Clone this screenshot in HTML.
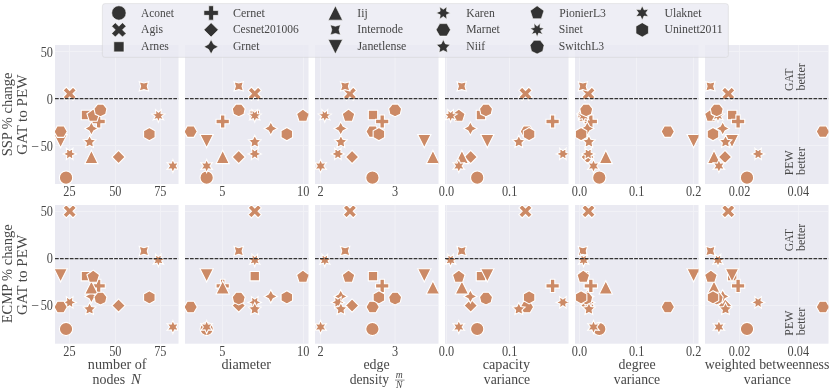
<!DOCTYPE html><html><head><meta charset="utf-8"><style>html,body{margin:0;padding:0;background:#fff;}svg{display:block;}</style></head><body><svg width="830" height="390" viewBox="0 0 830 390" font-family="Liberation Serif, DejaVu Serif, serif">
<rect width="830" height="390" fill="#fff"/>
<defs>
<clipPath id="c00"><rect x="55.00" y="45.00" width="123.50" height="139.00"/></clipPath>
<clipPath id="c01"><rect x="185.00" y="45.00" width="123.50" height="139.00"/></clipPath>
<clipPath id="c02"><rect x="315.00" y="45.00" width="123.50" height="139.00"/></clipPath>
<clipPath id="c03"><rect x="445.00" y="45.00" width="123.50" height="139.00"/></clipPath>
<clipPath id="c04"><rect x="575.00" y="45.00" width="123.50" height="139.00"/></clipPath>
<clipPath id="c05"><rect x="705.00" y="45.00" width="123.50" height="139.00"/></clipPath>
<clipPath id="c10"><rect x="55.00" y="205.00" width="123.50" height="138.70"/></clipPath>
<clipPath id="c11"><rect x="185.00" y="205.00" width="123.50" height="138.70"/></clipPath>
<clipPath id="c12"><rect x="315.00" y="205.00" width="123.50" height="138.70"/></clipPath>
<clipPath id="c13"><rect x="445.00" y="205.00" width="123.50" height="138.70"/></clipPath>
<clipPath id="c14"><rect x="575.00" y="205.00" width="123.50" height="138.70"/></clipPath>
<clipPath id="c15"><rect x="705.00" y="205.00" width="123.50" height="138.70"/></clipPath>
</defs>
<rect x="55.00" y="45.00" width="123.50" height="139.00" fill="#EAEAF2"/>
<g clip-path="url(#c00)">
<line x1="55.00" x2="178.50" y1="51.50" y2="51.50" stroke="#F1F1F6" stroke-width="1"/>
<line x1="55.00" x2="178.50" y1="98.50" y2="98.50" stroke="#F1F1F6" stroke-width="1"/>
<line x1="55.00" x2="178.50" y1="145.50" y2="145.50" stroke="#F1F1F6" stroke-width="1"/>
<line x1="69.50" x2="69.50" y1="45.00" y2="184.00" stroke="#F1F1F6" stroke-width="1"/>
<line x1="115.50" x2="115.50" y1="45.00" y2="184.00" stroke="#F1F1F6" stroke-width="1"/>
<line x1="160.50" x2="160.50" y1="45.00" y2="184.00" stroke="#F1F1F6" stroke-width="1"/>
<circle cx="66.04" cy="177.68" r="6.65" fill="#CC8A66" stroke="#fff" stroke-width="1.10"/>
<polygon points="66.34,100.35 69.66,97.03 72.99,100.35 76.31,97.03 72.99,93.70 76.31,90.38 72.99,87.05 69.66,90.38 66.34,87.05 63.01,90.38 66.34,93.70 63.01,97.03" fill="#CC8A66" stroke="#fff" stroke-width="1.10" stroke-linejoin="miter"/>
<polygon points="81.26,110.30 81.26,119.70 90.67,119.70 90.67,110.30" fill="#CC8A66" stroke="#fff" stroke-width="1.10" stroke-linejoin="miter"/>
<polygon points="96.42,128.15 100.86,128.15 100.86,123.72 105.29,123.72 105.29,119.28 100.86,119.28 100.86,114.85 96.42,114.85 96.42,119.28 91.99,119.28 91.99,123.72 96.42,123.72" fill="#CC8A66" stroke="#fff" stroke-width="1.10" stroke-linejoin="miter"/>
<polygon points="118.56,150.35 111.91,157.00 118.56,163.65 125.21,157.00" fill="#CC8A66" stroke="#fff" stroke-width="1.10" stroke-linejoin="miter"/>
<polygon points="91.40,121.85 89.05,126.15 84.75,128.50 89.05,130.85 91.40,135.15 93.75,130.85 98.05,128.50 93.75,126.15" fill="#CC8A66" stroke="#fff" stroke-width="1.10" stroke-linejoin="miter"/>
<polygon points="91.40,150.35 84.75,163.65 98.05,163.65" fill="#CC8A66" stroke="#fff" stroke-width="1.10" stroke-linejoin="miter"/>
<polygon points="139.21,81.60 140.59,86.30 139.21,91.00 143.91,89.62 148.62,91.00 147.24,86.30 148.62,81.60 143.91,82.97" fill="#CC8A66" stroke="#fff" stroke-width="1.10" stroke-linejoin="miter"/>
<polygon points="60.61,147.75 67.26,134.45 53.96,134.45" fill="#CC8A66" stroke="#fff" stroke-width="1.10" stroke-linejoin="miter"/>
<polygon points="66.34,148.14 66.79,152.24 63.01,153.90 66.79,155.56 66.34,159.66 69.66,157.22 72.99,159.66 72.54,155.56 76.31,153.90 72.54,152.24 72.99,148.14 69.66,150.58" fill="#CC8A66" stroke="#fff" stroke-width="1.10" stroke-linejoin="miter"/>
<polygon points="57.28,125.84 53.96,131.60 57.28,137.36 63.94,137.36 67.26,131.60 63.94,125.84" fill="#CC8A66" stroke="#fff" stroke-width="1.10" stroke-linejoin="miter"/>
<polygon points="89.59,135.35 87.63,139.31 83.26,139.95 86.42,143.03 85.68,147.38 89.59,145.32 93.49,147.38 92.75,143.03 95.91,139.95 91.54,139.31" fill="#CC8A66" stroke="#fff" stroke-width="1.10" stroke-linejoin="miter"/>
<polygon points="93.21,109.15 86.88,113.75 89.30,121.18 97.12,121.18 99.53,113.75" fill="#CC8A66" stroke="#fff" stroke-width="1.10" stroke-linejoin="miter"/>
<polygon points="155.52,109.61 155.80,113.53 151.92,114.12 155.16,116.34 153.20,119.75 156.96,118.60 158.40,122.25 159.84,118.60 163.60,119.75 161.64,116.34 164.89,114.12 161.00,113.53 161.29,109.61 158.40,112.27" fill="#CC8A66" stroke="#fff" stroke-width="1.10" stroke-linejoin="miter"/>
<polygon points="97.57,104.11 93.97,108.62 95.25,114.25 100.45,116.75 105.65,114.25 106.93,108.62 103.34,104.11" fill="#CC8A66" stroke="#fff" stroke-width="1.10" stroke-linejoin="miter"/>
<polygon points="172.89,159.35 171.23,163.12 167.13,162.68 169.56,166.00 167.13,169.32 171.23,168.88 172.89,172.65 174.55,168.88 178.65,169.32 176.21,166.00 178.65,162.68 174.55,163.12" fill="#CC8A66" stroke="#fff" stroke-width="1.10" stroke-linejoin="miter"/>
<polygon points="149.35,127.45 143.59,130.78 143.59,137.42 149.35,140.75 155.11,137.42 155.11,130.78" fill="#CC8A66" stroke="#fff" stroke-width="1.10" stroke-linejoin="miter"/>
<line x1="55.00" x2="178.50" y1="98.60" y2="98.60" stroke="#333" stroke-width="1.2" stroke-dasharray="3.75 1.18"/>
</g>
<rect x="185.00" y="45.00" width="123.50" height="139.00" fill="#EAEAF2"/>
<g clip-path="url(#c01)">
<line x1="185.00" x2="308.50" y1="51.50" y2="51.50" stroke="#F1F1F6" stroke-width="1"/>
<line x1="185.00" x2="308.50" y1="98.50" y2="98.50" stroke="#F1F1F6" stroke-width="1"/>
<line x1="185.00" x2="308.50" y1="145.50" y2="145.50" stroke="#F1F1F6" stroke-width="1"/>
<line x1="222.50" x2="222.50" y1="45.00" y2="184.00" stroke="#F1F1F6" stroke-width="1"/>
<line x1="303.50" x2="303.50" y1="45.00" y2="184.00" stroke="#F1F1F6" stroke-width="1"/>
<circle cx="206.65" cy="177.68" r="6.65" fill="#CC8A66" stroke="#fff" stroke-width="1.10"/>
<polygon points="251.44,100.35 254.77,97.03 258.09,100.35 261.42,97.03 258.09,93.70 261.42,90.38 258.09,87.05 254.77,90.38 251.44,87.05 248.12,90.38 251.44,93.70 248.12,97.03" fill="#CC8A66" stroke="#fff" stroke-width="1.10" stroke-linejoin="miter"/>
<polygon points="250.07,110.30 250.07,119.70 259.47,119.70 259.47,110.30" fill="#CC8A66" stroke="#fff" stroke-width="1.10" stroke-linejoin="miter"/>
<polygon points="220.47,128.15 224.91,128.15 224.91,123.72 229.34,123.72 229.34,119.28 224.91,119.28 224.91,114.85 220.47,114.85 220.47,119.28 216.04,119.28 216.04,123.72 220.47,123.72" fill="#CC8A66" stroke="#fff" stroke-width="1.10" stroke-linejoin="miter"/>
<polygon points="238.73,150.35 232.08,157.00 238.73,163.65 245.38,157.00" fill="#CC8A66" stroke="#fff" stroke-width="1.10" stroke-linejoin="miter"/>
<polygon points="270.81,121.85 268.46,126.15 264.16,128.50 268.46,130.85 270.81,135.15 273.16,130.85 277.46,128.50 273.16,126.15" fill="#CC8A66" stroke="#fff" stroke-width="1.10" stroke-linejoin="miter"/>
<polygon points="222.69,150.35 216.04,163.65 229.34,163.65" fill="#CC8A66" stroke="#fff" stroke-width="1.10" stroke-linejoin="miter"/>
<polygon points="234.03,81.60 235.41,86.30 234.03,91.00 238.73,89.62 243.43,91.00 242.06,86.30 243.43,81.60 238.73,82.97" fill="#CC8A66" stroke="#fff" stroke-width="1.10" stroke-linejoin="miter"/>
<polygon points="206.65,147.75 213.30,134.45 200.00,134.45" fill="#CC8A66" stroke="#fff" stroke-width="1.10" stroke-linejoin="miter"/>
<polygon points="251.44,148.14 251.89,152.24 248.12,153.90 251.89,155.56 251.44,159.66 254.77,157.22 258.09,159.66 257.65,155.56 261.42,153.90 257.65,152.24 258.09,148.14 254.77,150.58" fill="#CC8A66" stroke="#fff" stroke-width="1.10" stroke-linejoin="miter"/>
<polygon points="187.29,125.84 183.96,131.60 187.29,137.36 193.94,137.36 197.26,131.60 193.94,125.84" fill="#CC8A66" stroke="#fff" stroke-width="1.10" stroke-linejoin="miter"/>
<polygon points="254.77,135.35 252.82,139.31 248.45,139.95 251.61,143.03 250.86,147.38 254.77,145.32 258.68,147.38 257.93,143.03 261.09,139.95 256.72,139.31" fill="#CC8A66" stroke="#fff" stroke-width="1.10" stroke-linejoin="miter"/>
<polygon points="302.89,109.15 296.56,113.75 298.98,121.18 306.80,121.18 309.21,113.75" fill="#CC8A66" stroke="#fff" stroke-width="1.10" stroke-linejoin="miter"/>
<polygon points="251.88,109.61 252.17,113.53 248.29,114.12 251.53,116.34 249.57,119.75 253.33,118.60 254.77,122.25 256.21,118.60 259.97,119.75 258.01,116.34 261.25,114.12 257.37,113.53 257.65,109.61 254.77,112.27" fill="#CC8A66" stroke="#fff" stroke-width="1.10" stroke-linejoin="miter"/>
<polygon points="235.85,104.11 232.25,108.62 233.53,114.25 238.73,116.75 243.93,114.25 245.21,108.62 241.62,104.11" fill="#CC8A66" stroke="#fff" stroke-width="1.10" stroke-linejoin="miter"/>
<polygon points="206.65,159.35 204.99,163.12 200.89,162.68 203.33,166.00 200.89,169.32 204.99,168.88 206.65,172.65 208.32,168.88 212.41,169.32 209.98,166.00 212.41,162.68 208.32,163.12" fill="#CC8A66" stroke="#fff" stroke-width="1.10" stroke-linejoin="miter"/>
<polygon points="286.85,127.45 281.09,130.78 281.09,137.42 286.85,140.75 292.61,137.42 292.61,130.78" fill="#CC8A66" stroke="#fff" stroke-width="1.10" stroke-linejoin="miter"/>
<line x1="185.00" x2="308.50" y1="98.60" y2="98.60" stroke="#333" stroke-width="1.2" stroke-dasharray="3.75 1.18"/>
</g>
<rect x="315.00" y="45.00" width="123.50" height="139.00" fill="#EAEAF2"/>
<g clip-path="url(#c02)">
<line x1="315.00" x2="438.50" y1="51.50" y2="51.50" stroke="#F1F1F6" stroke-width="1"/>
<line x1="315.00" x2="438.50" y1="98.50" y2="98.50" stroke="#F1F1F6" stroke-width="1"/>
<line x1="315.00" x2="438.50" y1="145.50" y2="145.50" stroke="#F1F1F6" stroke-width="1"/>
<line x1="320.50" x2="320.50" y1="45.00" y2="184.00" stroke="#F1F1F6" stroke-width="1"/>
<line x1="395.00" x2="395.00" y1="45.00" y2="184.00" stroke="#F1F1F6" stroke-width="1"/>
<circle cx="372.40" cy="177.68" r="6.65" fill="#CC8A66" stroke="#fff" stroke-width="1.10"/>
<polygon points="346.57,100.35 349.90,97.03 353.22,100.35 356.55,97.03 353.22,93.70 356.55,90.38 353.22,87.05 349.90,90.38 346.57,87.05 343.25,90.38 346.57,93.70 343.25,97.03" fill="#CC8A66" stroke="#fff" stroke-width="1.10" stroke-linejoin="miter"/>
<polygon points="368.30,110.30 368.30,119.70 377.70,119.70 377.70,110.30" fill="#CC8A66" stroke="#fff" stroke-width="1.10" stroke-linejoin="miter"/>
<polygon points="379.98,128.15 384.42,128.15 384.42,123.72 388.85,123.72 388.85,119.28 384.42,119.28 384.42,114.85 379.98,114.85 379.98,119.28 375.55,119.28 375.55,123.72 379.98,123.72" fill="#CC8A66" stroke="#fff" stroke-width="1.10" stroke-linejoin="miter"/>
<polygon points="352.10,150.35 345.45,157.00 352.10,163.65 358.75,157.00" fill="#CC8A66" stroke="#fff" stroke-width="1.10" stroke-linejoin="miter"/>
<polygon points="340.70,121.85 338.35,126.15 334.05,128.50 338.35,130.85 340.70,135.15 343.05,130.85 347.35,128.50 343.05,126.15" fill="#CC8A66" stroke="#fff" stroke-width="1.10" stroke-linejoin="miter"/>
<polygon points="432.90,150.35 426.25,163.65 439.55,163.65" fill="#CC8A66" stroke="#fff" stroke-width="1.10" stroke-linejoin="miter"/>
<polygon points="340.40,81.60 341.78,86.30 340.40,91.00 345.10,89.62 349.80,91.00 348.43,86.30 349.80,81.60 345.10,82.97" fill="#CC8A66" stroke="#fff" stroke-width="1.10" stroke-linejoin="miter"/>
<polygon points="424.30,147.75 430.95,134.45 417.65,134.45" fill="#CC8A66" stroke="#fff" stroke-width="1.10" stroke-linejoin="miter"/>
<polygon points="334.57,148.14 335.02,152.24 331.25,153.90 335.02,155.56 334.57,159.66 337.90,157.22 341.22,159.66 340.78,155.56 344.55,153.90 340.78,152.24 341.22,148.14 337.90,150.58" fill="#CC8A66" stroke="#fff" stroke-width="1.10" stroke-linejoin="miter"/>
<polygon points="369.32,125.84 366.00,131.60 369.32,137.36 375.97,137.36 379.30,131.60 375.97,125.84" fill="#CC8A66" stroke="#fff" stroke-width="1.10" stroke-linejoin="miter"/>
<polygon points="340.90,135.35 338.95,139.31 334.58,139.95 337.74,143.03 336.99,147.38 340.90,145.32 344.81,147.38 344.06,143.03 347.22,139.95 342.85,139.31" fill="#CC8A66" stroke="#fff" stroke-width="1.10" stroke-linejoin="miter"/>
<polygon points="348.50,109.15 342.18,113.75 344.59,121.18 352.41,121.18 354.82,113.75" fill="#CC8A66" stroke="#fff" stroke-width="1.10" stroke-linejoin="miter"/>
<polygon points="321.91,109.61 322.20,113.53 318.32,114.12 321.56,116.34 319.60,119.75 323.36,118.60 324.80,122.25 326.24,118.60 330.00,119.75 328.04,116.34 331.28,114.12 327.40,113.53 327.69,109.61 324.80,112.27" fill="#CC8A66" stroke="#fff" stroke-width="1.10" stroke-linejoin="miter"/>
<polygon points="392.21,104.11 388.62,108.62 389.90,114.25 395.10,116.75 400.30,114.25 401.58,108.62 397.99,104.11" fill="#CC8A66" stroke="#fff" stroke-width="1.10" stroke-linejoin="miter"/>
<polygon points="320.60,159.35 318.94,163.12 314.84,162.68 317.28,166.00 314.84,169.32 318.94,168.88 320.60,172.65 322.26,168.88 326.36,169.32 323.93,166.00 326.36,162.68 322.26,163.12" fill="#CC8A66" stroke="#fff" stroke-width="1.10" stroke-linejoin="miter"/>
<polygon points="378.90,127.45 373.14,130.78 373.14,137.42 378.90,140.75 384.66,137.42 384.66,130.78" fill="#CC8A66" stroke="#fff" stroke-width="1.10" stroke-linejoin="miter"/>
<line x1="315.00" x2="438.50" y1="98.60" y2="98.60" stroke="#333" stroke-width="1.2" stroke-dasharray="3.75 1.18"/>
</g>
<rect x="445.00" y="45.00" width="123.50" height="139.00" fill="#EAEAF2"/>
<g clip-path="url(#c03)">
<line x1="445.00" x2="568.50" y1="51.50" y2="51.50" stroke="#F1F1F6" stroke-width="1"/>
<line x1="445.00" x2="568.50" y1="98.50" y2="98.50" stroke="#F1F1F6" stroke-width="1"/>
<line x1="445.00" x2="568.50" y1="145.50" y2="145.50" stroke="#F1F1F6" stroke-width="1"/>
<line x1="446.50" x2="446.50" y1="45.00" y2="184.00" stroke="#F1F1F6" stroke-width="1"/>
<line x1="509.50" x2="509.50" y1="45.00" y2="184.00" stroke="#F1F1F6" stroke-width="1"/>
<circle cx="477.20" cy="177.68" r="6.65" fill="#CC8A66" stroke="#fff" stroke-width="1.10"/>
<polygon points="522.17,100.35 525.50,97.03 528.83,100.35 532.15,97.03 528.83,93.70 532.15,90.38 528.83,87.05 525.50,90.38 522.17,87.05 518.85,90.38 522.17,93.70 518.85,97.03" fill="#CC8A66" stroke="#fff" stroke-width="1.10" stroke-linejoin="miter"/>
<polygon points="476.25,110.30 476.25,119.70 485.65,119.70 485.65,110.30" fill="#CC8A66" stroke="#fff" stroke-width="1.10" stroke-linejoin="miter"/>
<polygon points="550.38,128.15 554.82,128.15 554.82,123.72 559.25,123.72 559.25,119.28 554.82,119.28 554.82,114.85 550.38,114.85 550.38,119.28 545.95,119.28 545.95,123.72 550.38,123.72" fill="#CC8A66" stroke="#fff" stroke-width="1.10" stroke-linejoin="miter"/>
<polygon points="470.70,150.35 464.05,157.00 470.70,163.65 477.35,157.00" fill="#CC8A66" stroke="#fff" stroke-width="1.10" stroke-linejoin="miter"/>
<polygon points="470.40,121.85 468.05,126.15 463.75,128.50 468.05,130.85 470.40,135.15 472.75,130.85 477.05,128.50 472.75,126.15" fill="#CC8A66" stroke="#fff" stroke-width="1.10" stroke-linejoin="miter"/>
<polygon points="461.90,150.35 455.25,163.65 468.55,163.65" fill="#CC8A66" stroke="#fff" stroke-width="1.10" stroke-linejoin="miter"/>
<polygon points="457.00,81.60 458.38,86.30 457.00,91.00 461.70,89.62 466.40,91.00 465.02,86.30 466.40,81.60 461.70,82.97" fill="#CC8A66" stroke="#fff" stroke-width="1.10" stroke-linejoin="miter"/>
<polygon points="487.30,147.75 493.95,134.45 480.65,134.45" fill="#CC8A66" stroke="#fff" stroke-width="1.10" stroke-linejoin="miter"/>
<polygon points="559.57,148.14 560.02,152.24 556.25,153.90 560.02,155.56 559.57,159.66 562.90,157.22 566.23,159.66 565.78,155.56 569.55,153.90 565.78,152.24 566.23,148.14 562.90,150.58" fill="#CC8A66" stroke="#fff" stroke-width="1.10" stroke-linejoin="miter"/>
<polygon points="523.57,125.84 520.25,131.60 523.57,137.36 530.23,137.36 533.55,131.60 530.23,125.84" fill="#CC8A66" stroke="#fff" stroke-width="1.10" stroke-linejoin="miter"/>
<polygon points="518.80,135.35 516.85,139.31 512.48,139.95 515.64,143.03 514.89,147.38 518.80,145.32 522.71,147.38 521.96,143.03 525.12,139.95 520.75,139.31" fill="#CC8A66" stroke="#fff" stroke-width="1.10" stroke-linejoin="miter"/>
<polygon points="458.80,109.15 452.48,113.75 454.89,121.18 462.71,121.18 465.12,113.75" fill="#CC8A66" stroke="#fff" stroke-width="1.10" stroke-linejoin="miter"/>
<polygon points="447.71,109.61 448.00,113.53 444.12,114.12 447.36,116.34 445.40,119.75 449.16,118.60 450.60,122.25 452.04,118.60 455.80,119.75 453.84,116.34 457.08,114.12 453.20,113.53 453.49,109.61 450.60,112.27" fill="#CC8A66" stroke="#fff" stroke-width="1.10" stroke-linejoin="miter"/>
<polygon points="483.11,104.11 479.52,108.62 480.80,114.25 486.00,116.75 491.20,114.25 492.48,108.62 488.89,104.11" fill="#CC8A66" stroke="#fff" stroke-width="1.10" stroke-linejoin="miter"/>
<polygon points="458.80,159.35 457.14,163.12 453.04,162.68 455.48,166.00 453.04,169.32 457.14,168.88 458.80,172.65 460.46,168.88 464.56,169.32 462.12,166.00 464.56,162.68 460.46,163.12" fill="#CC8A66" stroke="#fff" stroke-width="1.10" stroke-linejoin="miter"/>
<polygon points="529.10,127.45 523.34,130.78 523.34,137.42 529.10,140.75 534.86,137.42 534.86,130.78" fill="#CC8A66" stroke="#fff" stroke-width="1.10" stroke-linejoin="miter"/>
<line x1="445.00" x2="568.50" y1="98.60" y2="98.60" stroke="#333" stroke-width="1.2" stroke-dasharray="3.75 1.18"/>
</g>
<rect x="575.00" y="45.00" width="123.50" height="139.00" fill="#EAEAF2"/>
<g clip-path="url(#c04)">
<line x1="575.00" x2="698.50" y1="51.50" y2="51.50" stroke="#F1F1F6" stroke-width="1"/>
<line x1="575.00" x2="698.50" y1="98.50" y2="98.50" stroke="#F1F1F6" stroke-width="1"/>
<line x1="575.00" x2="698.50" y1="145.50" y2="145.50" stroke="#F1F1F6" stroke-width="1"/>
<line x1="579.50" x2="579.50" y1="45.00" y2="184.00" stroke="#F1F1F6" stroke-width="1"/>
<line x1="636.50" x2="636.50" y1="45.00" y2="184.00" stroke="#F1F1F6" stroke-width="1"/>
<line x1="693.50" x2="693.50" y1="45.00" y2="184.00" stroke="#F1F1F6" stroke-width="1"/>
<circle cx="599.30" cy="177.68" r="6.65" fill="#CC8A66" stroke="#fff" stroke-width="1.10"/>
<polygon points="585.17,100.35 588.50,97.03 591.83,100.35 595.15,97.03 591.83,93.70 595.15,90.38 591.83,87.05 588.50,90.38 585.17,87.05 581.85,90.38 585.17,93.70 581.85,97.03" fill="#CC8A66" stroke="#fff" stroke-width="1.10" stroke-linejoin="miter"/>
<polygon points="579.30,110.30 579.30,119.70 588.70,119.70 588.70,110.30" fill="#CC8A66" stroke="#fff" stroke-width="1.10" stroke-linejoin="miter"/>
<polygon points="588.58,128.15 593.02,128.15 593.02,123.72 597.45,123.72 597.45,119.28 593.02,119.28 593.02,114.85 588.58,114.85 588.58,119.28 584.15,119.28 584.15,123.72 588.58,123.72" fill="#CC8A66" stroke="#fff" stroke-width="1.10" stroke-linejoin="miter"/>
<polygon points="587.50,150.35 580.85,157.00 587.50,163.65 594.15,157.00" fill="#CC8A66" stroke="#fff" stroke-width="1.10" stroke-linejoin="miter"/>
<polygon points="587.30,121.85 584.95,126.15 580.65,128.50 584.95,130.85 587.30,135.15 589.65,130.85 593.95,128.50 589.65,126.15" fill="#CC8A66" stroke="#fff" stroke-width="1.10" stroke-linejoin="miter"/>
<polygon points="605.80,150.35 599.15,163.65 612.45,163.65" fill="#CC8A66" stroke="#fff" stroke-width="1.10" stroke-linejoin="miter"/>
<polygon points="578.20,81.60 579.57,86.30 578.20,91.00 582.90,89.62 587.60,91.00 586.23,86.30 587.60,81.60 582.90,82.97" fill="#CC8A66" stroke="#fff" stroke-width="1.10" stroke-linejoin="miter"/>
<polygon points="693.60,147.75 700.25,134.45 686.95,134.45" fill="#CC8A66" stroke="#fff" stroke-width="1.10" stroke-linejoin="miter"/>
<polygon points="584.88,148.14 585.32,152.24 581.55,153.90 585.32,155.56 584.88,159.66 588.20,157.22 591.53,159.66 591.08,155.56 594.85,153.90 591.08,152.24 591.53,148.14 588.20,150.58" fill="#CC8A66" stroke="#fff" stroke-width="1.10" stroke-linejoin="miter"/>
<polygon points="664.47,125.84 661.15,131.60 664.47,137.36 671.12,137.36 674.45,131.60 671.12,125.84" fill="#CC8A66" stroke="#fff" stroke-width="1.10" stroke-linejoin="miter"/>
<polygon points="588.90,135.35 586.95,139.31 582.58,139.95 585.74,143.03 584.99,147.38 588.90,145.32 592.81,147.38 592.06,143.03 595.22,139.95 590.85,139.31" fill="#CC8A66" stroke="#fff" stroke-width="1.10" stroke-linejoin="miter"/>
<polygon points="583.30,109.15 576.98,113.75 579.39,121.18 587.21,121.18 589.62,113.75" fill="#CC8A66" stroke="#fff" stroke-width="1.10" stroke-linejoin="miter"/>
<polygon points="580.71,109.61 581.00,113.53 577.12,114.12 580.36,116.34 578.40,119.75 582.16,118.60 583.60,122.25 585.04,118.60 588.80,119.75 586.84,116.34 590.08,114.12 586.20,113.53 586.49,109.61 583.60,112.27" fill="#CC8A66" stroke="#fff" stroke-width="1.10" stroke-linejoin="miter"/>
<polygon points="583.31,104.11 579.72,108.62 581.00,114.25 586.20,116.75 591.40,114.25 592.68,108.62 589.09,104.11" fill="#CC8A66" stroke="#fff" stroke-width="1.10" stroke-linejoin="miter"/>
<polygon points="593.50,159.35 591.84,163.12 587.74,162.68 590.17,166.00 587.74,169.32 591.84,168.88 593.50,172.65 595.16,168.88 599.26,169.32 596.83,166.00 599.26,162.68 595.16,163.12" fill="#CC8A66" stroke="#fff" stroke-width="1.10" stroke-linejoin="miter"/>
<polygon points="581.10,127.45 575.34,130.78 575.34,137.42 581.10,140.75 586.86,137.42 586.86,130.78" fill="#CC8A66" stroke="#fff" stroke-width="1.10" stroke-linejoin="miter"/>
<line x1="575.00" x2="698.50" y1="98.60" y2="98.60" stroke="#333" stroke-width="1.2" stroke-dasharray="3.75 1.18"/>
</g>
<rect x="705.00" y="45.00" width="123.50" height="139.00" fill="#EAEAF2"/>
<g clip-path="url(#c05)">
<line x1="705.00" x2="828.50" y1="51.50" y2="51.50" stroke="#F1F1F6" stroke-width="1"/>
<line x1="705.00" x2="828.50" y1="98.50" y2="98.50" stroke="#F1F1F6" stroke-width="1"/>
<line x1="705.00" x2="828.50" y1="145.50" y2="145.50" stroke="#F1F1F6" stroke-width="1"/>
<line x1="739.50" x2="739.50" y1="45.00" y2="184.00" stroke="#F1F1F6" stroke-width="1"/>
<line x1="798.50" x2="798.50" y1="45.00" y2="184.00" stroke="#F1F1F6" stroke-width="1"/>
<circle cx="747.00" cy="177.68" r="6.65" fill="#CC8A66" stroke="#fff" stroke-width="1.10"/>
<polygon points="724.97,100.35 728.30,97.03 731.62,100.35 734.95,97.03 731.62,93.70 734.95,90.38 731.62,87.05 728.30,90.38 724.97,87.05 721.65,90.38 724.97,93.70 721.65,97.03" fill="#CC8A66" stroke="#fff" stroke-width="1.10" stroke-linejoin="miter"/>
<polygon points="727.50,110.30 727.50,119.70 736.90,119.70 736.90,110.30" fill="#CC8A66" stroke="#fff" stroke-width="1.10" stroke-linejoin="miter"/>
<polygon points="735.88,128.15 740.32,128.15 740.32,123.72 744.75,123.72 744.75,119.28 740.32,119.28 740.32,114.85 735.88,114.85 735.88,119.28 731.45,119.28 731.45,123.72 735.88,123.72" fill="#CC8A66" stroke="#fff" stroke-width="1.10" stroke-linejoin="miter"/>
<polygon points="725.00,150.35 718.35,157.00 725.00,163.65 731.65,157.00" fill="#CC8A66" stroke="#fff" stroke-width="1.10" stroke-linejoin="miter"/>
<polygon points="722.70,121.85 720.35,126.15 716.05,128.50 720.35,130.85 722.70,135.15 725.05,130.85 729.35,128.50 725.05,126.15" fill="#CC8A66" stroke="#fff" stroke-width="1.10" stroke-linejoin="miter"/>
<polygon points="714.00,150.35 707.35,163.65 720.65,163.65" fill="#CC8A66" stroke="#fff" stroke-width="1.10" stroke-linejoin="miter"/>
<polygon points="705.70,81.60 707.07,86.30 705.70,91.00 710.40,89.62 715.10,91.00 713.73,86.30 715.10,81.60 710.40,82.97" fill="#CC8A66" stroke="#fff" stroke-width="1.10" stroke-linejoin="miter"/>
<polygon points="732.00,147.75 738.65,134.45 725.35,134.45" fill="#CC8A66" stroke="#fff" stroke-width="1.10" stroke-linejoin="miter"/>
<polygon points="754.77,148.14 755.22,152.24 751.45,153.90 755.22,155.56 754.77,159.66 758.10,157.22 761.43,159.66 760.98,155.56 764.75,153.90 760.98,152.24 761.43,148.14 758.10,150.58" fill="#CC8A66" stroke="#fff" stroke-width="1.10" stroke-linejoin="miter"/>
<polygon points="819.57,125.84 816.25,131.60 819.57,137.36 826.23,137.36 829.55,131.60 826.23,125.84" fill="#CC8A66" stroke="#fff" stroke-width="1.10" stroke-linejoin="miter"/>
<polygon points="725.50,135.35 723.55,139.31 719.18,139.95 722.34,143.03 721.59,147.38 725.50,145.32 729.41,147.38 728.66,143.03 731.82,139.95 727.45,139.31" fill="#CC8A66" stroke="#fff" stroke-width="1.10" stroke-linejoin="miter"/>
<polygon points="710.90,109.15 704.58,113.75 706.99,121.18 714.81,121.18 717.22,113.75" fill="#CC8A66" stroke="#fff" stroke-width="1.10" stroke-linejoin="miter"/>
<polygon points="715.11,109.61 715.40,113.53 711.52,114.12 714.76,116.34 712.80,119.75 716.56,118.60 718.00,122.25 719.44,118.60 723.20,119.75 721.24,116.34 724.48,114.12 720.60,113.53 720.89,109.61 718.00,112.27" fill="#CC8A66" stroke="#fff" stroke-width="1.10" stroke-linejoin="miter"/>
<polygon points="713.81,104.11 710.22,108.62 711.50,114.25 716.70,116.75 721.90,114.25 723.18,108.62 719.59,104.11" fill="#CC8A66" stroke="#fff" stroke-width="1.10" stroke-linejoin="miter"/>
<polygon points="718.90,159.35 717.24,163.12 713.14,162.68 715.57,166.00 713.14,169.32 717.24,168.88 718.90,172.65 720.56,168.88 724.66,169.32 722.23,166.00 724.66,162.68 720.56,163.12" fill="#CC8A66" stroke="#fff" stroke-width="1.10" stroke-linejoin="miter"/>
<polygon points="713.00,127.45 707.24,130.78 707.24,137.42 713.00,140.75 718.76,137.42 718.76,130.78" fill="#CC8A66" stroke="#fff" stroke-width="1.10" stroke-linejoin="miter"/>
<line x1="705.00" x2="828.50" y1="98.60" y2="98.60" stroke="#333" stroke-width="1.2" stroke-dasharray="3.75 1.18"/>
</g>
<rect x="55.00" y="205.00" width="123.50" height="138.70" fill="#EAEAF2"/>
<g clip-path="url(#c10)">
<line x1="55.00" x2="178.50" y1="211.50" y2="211.50" stroke="#F1F1F6" stroke-width="1"/>
<line x1="55.00" x2="178.50" y1="258.50" y2="258.50" stroke="#F1F1F6" stroke-width="1"/>
<line x1="55.00" x2="178.50" y1="305.50" y2="305.50" stroke="#F1F1F6" stroke-width="1"/>
<line x1="69.50" x2="69.50" y1="205.00" y2="343.70" stroke="#F1F1F6" stroke-width="1"/>
<line x1="115.50" x2="115.50" y1="205.00" y2="343.70" stroke="#F1F1F6" stroke-width="1"/>
<line x1="160.50" x2="160.50" y1="205.00" y2="343.70" stroke="#F1F1F6" stroke-width="1"/>
<circle cx="66.04" cy="329.00" r="6.65" fill="#CC8A66" stroke="#fff" stroke-width="1.10"/>
<polygon points="66.34,217.95 69.66,214.62 72.99,217.95 76.31,214.62 72.99,211.30 76.31,207.98 72.99,204.65 69.66,207.98 66.34,204.65 63.01,207.98 66.34,211.30 63.01,214.62" fill="#CC8A66" stroke="#fff" stroke-width="1.10" stroke-linejoin="miter"/>
<polygon points="81.26,271.50 81.26,280.90 90.67,280.90 90.67,271.50" fill="#CC8A66" stroke="#fff" stroke-width="1.10" stroke-linejoin="miter"/>
<polygon points="96.42,292.55 100.86,292.55 100.86,288.12 105.29,288.12 105.29,283.68 100.86,283.68 100.86,279.25 96.42,279.25 96.42,283.68 91.99,283.68 91.99,288.12 96.42,288.12" fill="#CC8A66" stroke="#fff" stroke-width="1.10" stroke-linejoin="miter"/>
<polygon points="118.56,298.95 111.91,305.60 118.56,312.25 125.21,305.60" fill="#CC8A66" stroke="#fff" stroke-width="1.10" stroke-linejoin="miter"/>
<polygon points="91.40,289.75 89.05,294.05 84.75,296.40 89.05,298.75 91.40,303.05 93.75,298.75 98.05,296.40 93.75,294.05" fill="#CC8A66" stroke="#fff" stroke-width="1.10" stroke-linejoin="miter"/>
<polygon points="91.40,280.75 84.75,294.05 98.05,294.05" fill="#CC8A66" stroke="#fff" stroke-width="1.10" stroke-linejoin="miter"/>
<polygon points="139.21,246.30 140.59,251.00 139.21,255.70 143.91,254.32 148.62,255.70 147.24,251.00 148.62,246.30 143.91,247.68" fill="#CC8A66" stroke="#fff" stroke-width="1.10" stroke-linejoin="miter"/>
<polygon points="60.61,282.05 67.26,268.75 53.96,268.75" fill="#CC8A66" stroke="#fff" stroke-width="1.10" stroke-linejoin="miter"/>
<polygon points="66.34,296.64 66.79,300.74 63.01,302.40 66.79,304.06 66.34,308.16 69.66,305.72 72.99,308.16 72.54,304.06 76.31,302.40 72.54,300.74 72.99,296.64 69.66,299.07" fill="#CC8A66" stroke="#fff" stroke-width="1.10" stroke-linejoin="miter"/>
<polygon points="57.28,301.24 53.96,307.00 57.28,312.76 63.94,312.76 67.26,307.00 63.94,301.24" fill="#CC8A66" stroke="#fff" stroke-width="1.10" stroke-linejoin="miter"/>
<polygon points="89.59,302.55 87.63,306.51 83.26,307.15 86.42,310.23 85.68,314.58 89.59,312.52 93.49,314.58 92.75,310.23 95.91,307.15 91.54,306.51" fill="#CC8A66" stroke="#fff" stroke-width="1.10" stroke-linejoin="miter"/>
<polygon points="93.21,270.15 86.88,274.75 89.30,282.18 97.12,282.18 99.53,274.75" fill="#CC8A66" stroke="#fff" stroke-width="1.10" stroke-linejoin="miter"/>
<polygon points="155.52,254.11 155.80,258.03 151.92,258.62 155.16,260.84 153.20,264.25 156.96,263.10 158.40,266.75 159.84,263.10 163.60,264.25 161.64,260.84 164.89,258.62 161.00,258.03 161.29,254.11 158.40,256.78" fill="#CC8A66" stroke="#fff" stroke-width="1.10" stroke-linejoin="miter"/>
<polygon points="97.57,292.31 93.97,296.82 95.25,302.45 100.45,304.95 105.65,302.45 106.93,296.82 103.34,292.31" fill="#CC8A66" stroke="#fff" stroke-width="1.10" stroke-linejoin="miter"/>
<polygon points="172.89,320.35 171.23,324.12 167.13,323.68 169.56,327.00 167.13,330.32 171.23,329.88 172.89,333.65 174.55,329.88 178.65,330.32 176.21,327.00 178.65,323.68 174.55,324.12" fill="#CC8A66" stroke="#fff" stroke-width="1.10" stroke-linejoin="miter"/>
<polygon points="149.35,290.65 143.59,293.98 143.59,300.62 149.35,303.95 155.11,300.62 155.11,293.98" fill="#CC8A66" stroke="#fff" stroke-width="1.10" stroke-linejoin="miter"/>
<line x1="55.00" x2="178.50" y1="258.55" y2="258.55" stroke="#333" stroke-width="1.2" stroke-dasharray="3.75 1.18"/>
</g>
<rect x="185.00" y="205.00" width="123.50" height="138.70" fill="#EAEAF2"/>
<g clip-path="url(#c11)">
<line x1="185.00" x2="308.50" y1="211.50" y2="211.50" stroke="#F1F1F6" stroke-width="1"/>
<line x1="185.00" x2="308.50" y1="258.50" y2="258.50" stroke="#F1F1F6" stroke-width="1"/>
<line x1="185.00" x2="308.50" y1="305.50" y2="305.50" stroke="#F1F1F6" stroke-width="1"/>
<line x1="222.50" x2="222.50" y1="205.00" y2="343.70" stroke="#F1F1F6" stroke-width="1"/>
<line x1="303.50" x2="303.50" y1="205.00" y2="343.70" stroke="#F1F1F6" stroke-width="1"/>
<circle cx="206.65" cy="329.00" r="6.65" fill="#CC8A66" stroke="#fff" stroke-width="1.10"/>
<polygon points="251.44,217.95 254.77,214.62 258.09,217.95 261.42,214.62 258.09,211.30 261.42,207.98 258.09,204.65 254.77,207.98 251.44,204.65 248.12,207.98 251.44,211.30 248.12,214.62" fill="#CC8A66" stroke="#fff" stroke-width="1.10" stroke-linejoin="miter"/>
<polygon points="250.07,271.50 250.07,280.90 259.47,280.90 259.47,271.50" fill="#CC8A66" stroke="#fff" stroke-width="1.10" stroke-linejoin="miter"/>
<polygon points="220.47,292.55 224.91,292.55 224.91,288.12 229.34,288.12 229.34,283.68 224.91,283.68 224.91,279.25 220.47,279.25 220.47,283.68 216.04,283.68 216.04,288.12 220.47,288.12" fill="#CC8A66" stroke="#fff" stroke-width="1.10" stroke-linejoin="miter"/>
<polygon points="238.73,298.95 232.08,305.60 238.73,312.25 245.38,305.60" fill="#CC8A66" stroke="#fff" stroke-width="1.10" stroke-linejoin="miter"/>
<polygon points="270.81,289.75 268.46,294.05 264.16,296.40 268.46,298.75 270.81,303.05 273.16,298.75 277.46,296.40 273.16,294.05" fill="#CC8A66" stroke="#fff" stroke-width="1.10" stroke-linejoin="miter"/>
<polygon points="222.69,280.75 216.04,294.05 229.34,294.05" fill="#CC8A66" stroke="#fff" stroke-width="1.10" stroke-linejoin="miter"/>
<polygon points="234.03,246.30 235.41,251.00 234.03,255.70 238.73,254.32 243.43,255.70 242.06,251.00 243.43,246.30 238.73,247.68" fill="#CC8A66" stroke="#fff" stroke-width="1.10" stroke-linejoin="miter"/>
<polygon points="206.65,282.05 213.30,268.75 200.00,268.75" fill="#CC8A66" stroke="#fff" stroke-width="1.10" stroke-linejoin="miter"/>
<polygon points="251.44,296.64 251.89,300.74 248.12,302.40 251.89,304.06 251.44,308.16 254.77,305.72 258.09,308.16 257.65,304.06 261.42,302.40 257.65,300.74 258.09,296.64 254.77,299.07" fill="#CC8A66" stroke="#fff" stroke-width="1.10" stroke-linejoin="miter"/>
<polygon points="187.29,301.24 183.96,307.00 187.29,312.76 193.94,312.76 197.26,307.00 193.94,301.24" fill="#CC8A66" stroke="#fff" stroke-width="1.10" stroke-linejoin="miter"/>
<polygon points="254.77,302.55 252.82,306.51 248.45,307.15 251.61,310.23 250.86,314.58 254.77,312.52 258.68,314.58 257.93,310.23 261.09,307.15 256.72,306.51" fill="#CC8A66" stroke="#fff" stroke-width="1.10" stroke-linejoin="miter"/>
<polygon points="302.89,270.15 296.56,274.75 298.98,282.18 306.80,282.18 309.21,274.75" fill="#CC8A66" stroke="#fff" stroke-width="1.10" stroke-linejoin="miter"/>
<polygon points="251.88,254.11 252.17,258.03 248.29,258.62 251.53,260.84 249.57,264.25 253.33,263.10 254.77,266.75 256.21,263.10 259.97,264.25 258.01,260.84 261.25,258.62 257.37,258.03 257.65,254.11 254.77,256.78" fill="#CC8A66" stroke="#fff" stroke-width="1.10" stroke-linejoin="miter"/>
<polygon points="235.85,292.31 232.25,296.82 233.53,302.45 238.73,304.95 243.93,302.45 245.21,296.82 241.62,292.31" fill="#CC8A66" stroke="#fff" stroke-width="1.10" stroke-linejoin="miter"/>
<polygon points="206.65,320.35 204.99,324.12 200.89,323.68 203.33,327.00 200.89,330.32 204.99,329.88 206.65,333.65 208.32,329.88 212.41,330.32 209.98,327.00 212.41,323.68 208.32,324.12" fill="#CC8A66" stroke="#fff" stroke-width="1.10" stroke-linejoin="miter"/>
<polygon points="286.85,290.65 281.09,293.98 281.09,300.62 286.85,303.95 292.61,300.62 292.61,293.98" fill="#CC8A66" stroke="#fff" stroke-width="1.10" stroke-linejoin="miter"/>
<line x1="185.00" x2="308.50" y1="258.55" y2="258.55" stroke="#333" stroke-width="1.2" stroke-dasharray="3.75 1.18"/>
</g>
<rect x="315.00" y="205.00" width="123.50" height="138.70" fill="#EAEAF2"/>
<g clip-path="url(#c12)">
<line x1="315.00" x2="438.50" y1="211.50" y2="211.50" stroke="#F1F1F6" stroke-width="1"/>
<line x1="315.00" x2="438.50" y1="258.50" y2="258.50" stroke="#F1F1F6" stroke-width="1"/>
<line x1="315.00" x2="438.50" y1="305.50" y2="305.50" stroke="#F1F1F6" stroke-width="1"/>
<line x1="320.50" x2="320.50" y1="205.00" y2="343.70" stroke="#F1F1F6" stroke-width="1"/>
<line x1="395.00" x2="395.00" y1="205.00" y2="343.70" stroke="#F1F1F6" stroke-width="1"/>
<circle cx="372.40" cy="329.00" r="6.65" fill="#CC8A66" stroke="#fff" stroke-width="1.10"/>
<polygon points="346.57,217.95 349.90,214.62 353.22,217.95 356.55,214.62 353.22,211.30 356.55,207.98 353.22,204.65 349.90,207.98 346.57,204.65 343.25,207.98 346.57,211.30 343.25,214.62" fill="#CC8A66" stroke="#fff" stroke-width="1.10" stroke-linejoin="miter"/>
<polygon points="368.30,271.50 368.30,280.90 377.70,280.90 377.70,271.50" fill="#CC8A66" stroke="#fff" stroke-width="1.10" stroke-linejoin="miter"/>
<polygon points="379.98,292.55 384.42,292.55 384.42,288.12 388.85,288.12 388.85,283.68 384.42,283.68 384.42,279.25 379.98,279.25 379.98,283.68 375.55,283.68 375.55,288.12 379.98,288.12" fill="#CC8A66" stroke="#fff" stroke-width="1.10" stroke-linejoin="miter"/>
<polygon points="352.10,298.95 345.45,305.60 352.10,312.25 358.75,305.60" fill="#CC8A66" stroke="#fff" stroke-width="1.10" stroke-linejoin="miter"/>
<polygon points="340.70,289.75 338.35,294.05 334.05,296.40 338.35,298.75 340.70,303.05 343.05,298.75 347.35,296.40 343.05,294.05" fill="#CC8A66" stroke="#fff" stroke-width="1.10" stroke-linejoin="miter"/>
<polygon points="432.90,280.75 426.25,294.05 439.55,294.05" fill="#CC8A66" stroke="#fff" stroke-width="1.10" stroke-linejoin="miter"/>
<polygon points="340.40,246.30 341.78,251.00 340.40,255.70 345.10,254.32 349.80,255.70 348.43,251.00 349.80,246.30 345.10,247.68" fill="#CC8A66" stroke="#fff" stroke-width="1.10" stroke-linejoin="miter"/>
<polygon points="424.30,282.05 430.95,268.75 417.65,268.75" fill="#CC8A66" stroke="#fff" stroke-width="1.10" stroke-linejoin="miter"/>
<polygon points="334.57,296.64 335.02,300.74 331.25,302.40 335.02,304.06 334.57,308.16 337.90,305.72 341.22,308.16 340.78,304.06 344.55,302.40 340.78,300.74 341.22,296.64 337.90,299.07" fill="#CC8A66" stroke="#fff" stroke-width="1.10" stroke-linejoin="miter"/>
<polygon points="369.32,301.24 366.00,307.00 369.32,312.76 375.97,312.76 379.30,307.00 375.97,301.24" fill="#CC8A66" stroke="#fff" stroke-width="1.10" stroke-linejoin="miter"/>
<polygon points="340.90,302.55 338.95,306.51 334.58,307.15 337.74,310.23 336.99,314.58 340.90,312.52 344.81,314.58 344.06,310.23 347.22,307.15 342.85,306.51" fill="#CC8A66" stroke="#fff" stroke-width="1.10" stroke-linejoin="miter"/>
<polygon points="348.50,270.15 342.18,274.75 344.59,282.18 352.41,282.18 354.82,274.75" fill="#CC8A66" stroke="#fff" stroke-width="1.10" stroke-linejoin="miter"/>
<polygon points="321.91,254.11 322.20,258.03 318.32,258.62 321.56,260.84 319.60,264.25 323.36,263.10 324.80,266.75 326.24,263.10 330.00,264.25 328.04,260.84 331.28,258.62 327.40,258.03 327.69,254.11 324.80,256.78" fill="#CC8A66" stroke="#fff" stroke-width="1.10" stroke-linejoin="miter"/>
<polygon points="392.21,292.31 388.62,296.82 389.90,302.45 395.10,304.95 400.30,302.45 401.58,296.82 397.99,292.31" fill="#CC8A66" stroke="#fff" stroke-width="1.10" stroke-linejoin="miter"/>
<polygon points="320.60,320.35 318.94,324.12 314.84,323.68 317.28,327.00 314.84,330.32 318.94,329.88 320.60,333.65 322.26,329.88 326.36,330.32 323.93,327.00 326.36,323.68 322.26,324.12" fill="#CC8A66" stroke="#fff" stroke-width="1.10" stroke-linejoin="miter"/>
<polygon points="378.90,290.65 373.14,293.98 373.14,300.62 378.90,303.95 384.66,300.62 384.66,293.98" fill="#CC8A66" stroke="#fff" stroke-width="1.10" stroke-linejoin="miter"/>
<line x1="315.00" x2="438.50" y1="258.55" y2="258.55" stroke="#333" stroke-width="1.2" stroke-dasharray="3.75 1.18"/>
</g>
<rect x="445.00" y="205.00" width="123.50" height="138.70" fill="#EAEAF2"/>
<g clip-path="url(#c13)">
<line x1="445.00" x2="568.50" y1="211.50" y2="211.50" stroke="#F1F1F6" stroke-width="1"/>
<line x1="445.00" x2="568.50" y1="258.50" y2="258.50" stroke="#F1F1F6" stroke-width="1"/>
<line x1="445.00" x2="568.50" y1="305.50" y2="305.50" stroke="#F1F1F6" stroke-width="1"/>
<line x1="446.50" x2="446.50" y1="205.00" y2="343.70" stroke="#F1F1F6" stroke-width="1"/>
<line x1="509.50" x2="509.50" y1="205.00" y2="343.70" stroke="#F1F1F6" stroke-width="1"/>
<circle cx="477.20" cy="329.00" r="6.65" fill="#CC8A66" stroke="#fff" stroke-width="1.10"/>
<polygon points="522.17,217.95 525.50,214.62 528.83,217.95 532.15,214.62 528.83,211.30 532.15,207.98 528.83,204.65 525.50,207.98 522.17,204.65 518.85,207.98 522.17,211.30 518.85,214.62" fill="#CC8A66" stroke="#fff" stroke-width="1.10" stroke-linejoin="miter"/>
<polygon points="476.25,271.50 476.25,280.90 485.65,280.90 485.65,271.50" fill="#CC8A66" stroke="#fff" stroke-width="1.10" stroke-linejoin="miter"/>
<polygon points="550.38,292.55 554.82,292.55 554.82,288.12 559.25,288.12 559.25,283.68 554.82,283.68 554.82,279.25 550.38,279.25 550.38,283.68 545.95,283.68 545.95,288.12 550.38,288.12" fill="#CC8A66" stroke="#fff" stroke-width="1.10" stroke-linejoin="miter"/>
<polygon points="470.70,298.95 464.05,305.60 470.70,312.25 477.35,305.60" fill="#CC8A66" stroke="#fff" stroke-width="1.10" stroke-linejoin="miter"/>
<polygon points="470.40,289.75 468.05,294.05 463.75,296.40 468.05,298.75 470.40,303.05 472.75,298.75 477.05,296.40 472.75,294.05" fill="#CC8A66" stroke="#fff" stroke-width="1.10" stroke-linejoin="miter"/>
<polygon points="461.90,280.75 455.25,294.05 468.55,294.05" fill="#CC8A66" stroke="#fff" stroke-width="1.10" stroke-linejoin="miter"/>
<polygon points="457.00,246.30 458.38,251.00 457.00,255.70 461.70,254.32 466.40,255.70 465.02,251.00 466.40,246.30 461.70,247.68" fill="#CC8A66" stroke="#fff" stroke-width="1.10" stroke-linejoin="miter"/>
<polygon points="487.30,282.05 493.95,268.75 480.65,268.75" fill="#CC8A66" stroke="#fff" stroke-width="1.10" stroke-linejoin="miter"/>
<polygon points="559.57,296.64 560.02,300.74 556.25,302.40 560.02,304.06 559.57,308.16 562.90,305.72 566.23,308.16 565.78,304.06 569.55,302.40 565.78,300.74 566.23,296.64 562.90,299.07" fill="#CC8A66" stroke="#fff" stroke-width="1.10" stroke-linejoin="miter"/>
<polygon points="523.57,301.24 520.25,307.00 523.57,312.76 530.23,312.76 533.55,307.00 530.23,301.24" fill="#CC8A66" stroke="#fff" stroke-width="1.10" stroke-linejoin="miter"/>
<polygon points="518.80,302.55 516.85,306.51 512.48,307.15 515.64,310.23 514.89,314.58 518.80,312.52 522.71,314.58 521.96,310.23 525.12,307.15 520.75,306.51" fill="#CC8A66" stroke="#fff" stroke-width="1.10" stroke-linejoin="miter"/>
<polygon points="458.80,270.15 452.48,274.75 454.89,282.18 462.71,282.18 465.12,274.75" fill="#CC8A66" stroke="#fff" stroke-width="1.10" stroke-linejoin="miter"/>
<polygon points="447.71,254.11 448.00,258.03 444.12,258.62 447.36,260.84 445.40,264.25 449.16,263.10 450.60,266.75 452.04,263.10 455.80,264.25 453.84,260.84 457.08,258.62 453.20,258.03 453.49,254.11 450.60,256.78" fill="#CC8A66" stroke="#fff" stroke-width="1.10" stroke-linejoin="miter"/>
<polygon points="483.11,292.31 479.52,296.82 480.80,302.45 486.00,304.95 491.20,302.45 492.48,296.82 488.89,292.31" fill="#CC8A66" stroke="#fff" stroke-width="1.10" stroke-linejoin="miter"/>
<polygon points="458.80,320.35 457.14,324.12 453.04,323.68 455.48,327.00 453.04,330.32 457.14,329.88 458.80,333.65 460.46,329.88 464.56,330.32 462.12,327.00 464.56,323.68 460.46,324.12" fill="#CC8A66" stroke="#fff" stroke-width="1.10" stroke-linejoin="miter"/>
<polygon points="529.10,290.65 523.34,293.98 523.34,300.62 529.10,303.95 534.86,300.62 534.86,293.98" fill="#CC8A66" stroke="#fff" stroke-width="1.10" stroke-linejoin="miter"/>
<line x1="445.00" x2="568.50" y1="258.55" y2="258.55" stroke="#333" stroke-width="1.2" stroke-dasharray="3.75 1.18"/>
</g>
<rect x="575.00" y="205.00" width="123.50" height="138.70" fill="#EAEAF2"/>
<g clip-path="url(#c14)">
<line x1="575.00" x2="698.50" y1="211.50" y2="211.50" stroke="#F1F1F6" stroke-width="1"/>
<line x1="575.00" x2="698.50" y1="258.50" y2="258.50" stroke="#F1F1F6" stroke-width="1"/>
<line x1="575.00" x2="698.50" y1="305.50" y2="305.50" stroke="#F1F1F6" stroke-width="1"/>
<line x1="579.50" x2="579.50" y1="205.00" y2="343.70" stroke="#F1F1F6" stroke-width="1"/>
<line x1="636.50" x2="636.50" y1="205.00" y2="343.70" stroke="#F1F1F6" stroke-width="1"/>
<line x1="693.50" x2="693.50" y1="205.00" y2="343.70" stroke="#F1F1F6" stroke-width="1"/>
<circle cx="599.30" cy="329.00" r="6.65" fill="#CC8A66" stroke="#fff" stroke-width="1.10"/>
<polygon points="585.17,217.95 588.50,214.62 591.83,217.95 595.15,214.62 591.83,211.30 595.15,207.98 591.83,204.65 588.50,207.98 585.17,204.65 581.85,207.98 585.17,211.30 581.85,214.62" fill="#CC8A66" stroke="#fff" stroke-width="1.10" stroke-linejoin="miter"/>
<polygon points="579.30,271.50 579.30,280.90 588.70,280.90 588.70,271.50" fill="#CC8A66" stroke="#fff" stroke-width="1.10" stroke-linejoin="miter"/>
<polygon points="588.58,292.55 593.02,292.55 593.02,288.12 597.45,288.12 597.45,283.68 593.02,283.68 593.02,279.25 588.58,279.25 588.58,283.68 584.15,283.68 584.15,288.12 588.58,288.12" fill="#CC8A66" stroke="#fff" stroke-width="1.10" stroke-linejoin="miter"/>
<polygon points="587.50,298.95 580.85,305.60 587.50,312.25 594.15,305.60" fill="#CC8A66" stroke="#fff" stroke-width="1.10" stroke-linejoin="miter"/>
<polygon points="587.30,289.75 584.95,294.05 580.65,296.40 584.95,298.75 587.30,303.05 589.65,298.75 593.95,296.40 589.65,294.05" fill="#CC8A66" stroke="#fff" stroke-width="1.10" stroke-linejoin="miter"/>
<polygon points="605.80,280.75 599.15,294.05 612.45,294.05" fill="#CC8A66" stroke="#fff" stroke-width="1.10" stroke-linejoin="miter"/>
<polygon points="578.20,246.30 579.57,251.00 578.20,255.70 582.90,254.32 587.60,255.70 586.23,251.00 587.60,246.30 582.90,247.68" fill="#CC8A66" stroke="#fff" stroke-width="1.10" stroke-linejoin="miter"/>
<polygon points="693.60,282.05 700.25,268.75 686.95,268.75" fill="#CC8A66" stroke="#fff" stroke-width="1.10" stroke-linejoin="miter"/>
<polygon points="584.88,296.64 585.32,300.74 581.55,302.40 585.32,304.06 584.88,308.16 588.20,305.72 591.53,308.16 591.08,304.06 594.85,302.40 591.08,300.74 591.53,296.64 588.20,299.07" fill="#CC8A66" stroke="#fff" stroke-width="1.10" stroke-linejoin="miter"/>
<polygon points="664.47,301.24 661.15,307.00 664.47,312.76 671.12,312.76 674.45,307.00 671.12,301.24" fill="#CC8A66" stroke="#fff" stroke-width="1.10" stroke-linejoin="miter"/>
<polygon points="588.90,302.55 586.95,306.51 582.58,307.15 585.74,310.23 584.99,314.58 588.90,312.52 592.81,314.58 592.06,310.23 595.22,307.15 590.85,306.51" fill="#CC8A66" stroke="#fff" stroke-width="1.10" stroke-linejoin="miter"/>
<polygon points="583.30,270.15 576.98,274.75 579.39,282.18 587.21,282.18 589.62,274.75" fill="#CC8A66" stroke="#fff" stroke-width="1.10" stroke-linejoin="miter"/>
<polygon points="580.71,254.11 581.00,258.03 577.12,258.62 580.36,260.84 578.40,264.25 582.16,263.10 583.60,266.75 585.04,263.10 588.80,264.25 586.84,260.84 590.08,258.62 586.20,258.03 586.49,254.11 583.60,256.78" fill="#CC8A66" stroke="#fff" stroke-width="1.10" stroke-linejoin="miter"/>
<polygon points="583.31,292.31 579.72,296.82 581.00,302.45 586.20,304.95 591.40,302.45 592.68,296.82 589.09,292.31" fill="#CC8A66" stroke="#fff" stroke-width="1.10" stroke-linejoin="miter"/>
<polygon points="593.50,320.35 591.84,324.12 587.74,323.68 590.17,327.00 587.74,330.32 591.84,329.88 593.50,333.65 595.16,329.88 599.26,330.32 596.83,327.00 599.26,323.68 595.16,324.12" fill="#CC8A66" stroke="#fff" stroke-width="1.10" stroke-linejoin="miter"/>
<polygon points="581.10,290.65 575.34,293.98 575.34,300.62 581.10,303.95 586.86,300.62 586.86,293.98" fill="#CC8A66" stroke="#fff" stroke-width="1.10" stroke-linejoin="miter"/>
<line x1="575.00" x2="698.50" y1="258.55" y2="258.55" stroke="#333" stroke-width="1.2" stroke-dasharray="3.75 1.18"/>
</g>
<rect x="705.00" y="205.00" width="123.50" height="138.70" fill="#EAEAF2"/>
<g clip-path="url(#c15)">
<line x1="705.00" x2="828.50" y1="211.50" y2="211.50" stroke="#F1F1F6" stroke-width="1"/>
<line x1="705.00" x2="828.50" y1="258.50" y2="258.50" stroke="#F1F1F6" stroke-width="1"/>
<line x1="705.00" x2="828.50" y1="305.50" y2="305.50" stroke="#F1F1F6" stroke-width="1"/>
<line x1="739.50" x2="739.50" y1="205.00" y2="343.70" stroke="#F1F1F6" stroke-width="1"/>
<line x1="798.50" x2="798.50" y1="205.00" y2="343.70" stroke="#F1F1F6" stroke-width="1"/>
<circle cx="747.00" cy="329.00" r="6.65" fill="#CC8A66" stroke="#fff" stroke-width="1.10"/>
<polygon points="724.97,217.95 728.30,214.62 731.62,217.95 734.95,214.62 731.62,211.30 734.95,207.98 731.62,204.65 728.30,207.98 724.97,204.65 721.65,207.98 724.97,211.30 721.65,214.62" fill="#CC8A66" stroke="#fff" stroke-width="1.10" stroke-linejoin="miter"/>
<polygon points="727.50,271.50 727.50,280.90 736.90,280.90 736.90,271.50" fill="#CC8A66" stroke="#fff" stroke-width="1.10" stroke-linejoin="miter"/>
<polygon points="735.88,292.55 740.32,292.55 740.32,288.12 744.75,288.12 744.75,283.68 740.32,283.68 740.32,279.25 735.88,279.25 735.88,283.68 731.45,283.68 731.45,288.12 735.88,288.12" fill="#CC8A66" stroke="#fff" stroke-width="1.10" stroke-linejoin="miter"/>
<polygon points="725.00,298.95 718.35,305.60 725.00,312.25 731.65,305.60" fill="#CC8A66" stroke="#fff" stroke-width="1.10" stroke-linejoin="miter"/>
<polygon points="722.70,289.75 720.35,294.05 716.05,296.40 720.35,298.75 722.70,303.05 725.05,298.75 729.35,296.40 725.05,294.05" fill="#CC8A66" stroke="#fff" stroke-width="1.10" stroke-linejoin="miter"/>
<polygon points="714.00,280.75 707.35,294.05 720.65,294.05" fill="#CC8A66" stroke="#fff" stroke-width="1.10" stroke-linejoin="miter"/>
<polygon points="705.70,246.30 707.07,251.00 705.70,255.70 710.40,254.32 715.10,255.70 713.73,251.00 715.10,246.30 710.40,247.68" fill="#CC8A66" stroke="#fff" stroke-width="1.10" stroke-linejoin="miter"/>
<polygon points="732.00,282.05 738.65,268.75 725.35,268.75" fill="#CC8A66" stroke="#fff" stroke-width="1.10" stroke-linejoin="miter"/>
<polygon points="754.77,296.64 755.22,300.74 751.45,302.40 755.22,304.06 754.77,308.16 758.10,305.72 761.43,308.16 760.98,304.06 764.75,302.40 760.98,300.74 761.43,296.64 758.10,299.07" fill="#CC8A66" stroke="#fff" stroke-width="1.10" stroke-linejoin="miter"/>
<polygon points="819.57,301.24 816.25,307.00 819.57,312.76 826.23,312.76 829.55,307.00 826.23,301.24" fill="#CC8A66" stroke="#fff" stroke-width="1.10" stroke-linejoin="miter"/>
<polygon points="725.50,302.55 723.55,306.51 719.18,307.15 722.34,310.23 721.59,314.58 725.50,312.52 729.41,314.58 728.66,310.23 731.82,307.15 727.45,306.51" fill="#CC8A66" stroke="#fff" stroke-width="1.10" stroke-linejoin="miter"/>
<polygon points="710.90,270.15 704.58,274.75 706.99,282.18 714.81,282.18 717.22,274.75" fill="#CC8A66" stroke="#fff" stroke-width="1.10" stroke-linejoin="miter"/>
<polygon points="715.11,254.11 715.40,258.03 711.52,258.62 714.76,260.84 712.80,264.25 716.56,263.10 718.00,266.75 719.44,263.10 723.20,264.25 721.24,260.84 724.48,258.62 720.60,258.03 720.89,254.11 718.00,256.78" fill="#CC8A66" stroke="#fff" stroke-width="1.10" stroke-linejoin="miter"/>
<polygon points="713.81,292.31 710.22,296.82 711.50,302.45 716.70,304.95 721.90,302.45 723.18,296.82 719.59,292.31" fill="#CC8A66" stroke="#fff" stroke-width="1.10" stroke-linejoin="miter"/>
<polygon points="718.90,320.35 717.24,324.12 713.14,323.68 715.57,327.00 713.14,330.32 717.24,329.88 718.90,333.65 720.56,329.88 724.66,330.32 722.23,327.00 724.66,323.68 720.56,324.12" fill="#CC8A66" stroke="#fff" stroke-width="1.10" stroke-linejoin="miter"/>
<polygon points="713.00,290.65 707.24,293.98 707.24,300.62 713.00,303.95 718.76,300.62 718.76,293.98" fill="#CC8A66" stroke="#fff" stroke-width="1.10" stroke-linejoin="miter"/>
<line x1="705.00" x2="828.50" y1="258.55" y2="258.55" stroke="#333" stroke-width="1.2" stroke-dasharray="3.75 1.18"/>
</g>
<text x="63.33" y="195.75" font-size="13.80" textLength="12.28" lengthAdjust="spacingAndGlyphs" fill="#474747">25</text>
<text x="109.24" y="195.75" font-size="13.80" textLength="12.28" lengthAdjust="spacingAndGlyphs" fill="#474747">50</text>
<text x="154.21" y="195.75" font-size="13.80" textLength="12.28" lengthAdjust="spacingAndGlyphs" fill="#474747">75</text>
<text x="219.32" y="195.75" font-size="13.80" textLength="6.14" lengthAdjust="spacingAndGlyphs" fill="#474747">5</text>
<text x="297.05" y="195.75" font-size="13.80" textLength="12.28" lengthAdjust="spacingAndGlyphs" fill="#474747">10</text>
<text x="317.49" y="195.75" font-size="13.80" textLength="6.14" lengthAdjust="spacingAndGlyphs" fill="#474747">2</text>
<text x="391.88" y="195.75" font-size="13.80" textLength="6.14" lengthAdjust="spacingAndGlyphs" fill="#474747">3</text>
<text x="438.82" y="195.75" font-size="13.80" textLength="15.35" lengthAdjust="spacingAndGlyphs" fill="#474747">0.0</text>
<text x="501.96" y="195.75" font-size="13.80" textLength="15.35" lengthAdjust="spacingAndGlyphs" fill="#474747">0.1</text>
<text x="571.82" y="195.75" font-size="13.80" textLength="15.35" lengthAdjust="spacingAndGlyphs" fill="#474747">0.0</text>
<text x="628.96" y="195.75" font-size="13.80" textLength="15.35" lengthAdjust="spacingAndGlyphs" fill="#474747">0.1</text>
<text x="685.93" y="195.75" font-size="13.80" textLength="15.35" lengthAdjust="spacingAndGlyphs" fill="#474747">0.2</text>
<text x="728.86" y="195.75" font-size="13.80" textLength="21.49" lengthAdjust="spacingAndGlyphs" fill="#474747">0.02</text>
<text x="787.62" y="195.75" font-size="13.80" textLength="21.49" lengthAdjust="spacingAndGlyphs" fill="#474747">0.04</text>
<text x="40.68" y="56.50" font-size="13.80" textLength="12.28" lengthAdjust="spacingAndGlyphs" fill="#474747">50</text>
<text x="46.82" y="103.50" font-size="13.80" textLength="6.14" lengthAdjust="spacingAndGlyphs" fill="#474747">0</text>
<text x="40.68" y="150.50" font-size="13.80" textLength="12.28" lengthAdjust="spacingAndGlyphs" fill="#474747">50</text>
<text x="31.31" y="150.50" font-size="13.80" textLength="7.76" lengthAdjust="spacingAndGlyphs" fill="#474747">−</text>
<text x="63.33" y="355.55" font-size="13.80" textLength="12.28" lengthAdjust="spacingAndGlyphs" fill="#474747">25</text>
<text x="109.24" y="355.55" font-size="13.80" textLength="12.28" lengthAdjust="spacingAndGlyphs" fill="#474747">50</text>
<text x="154.21" y="355.55" font-size="13.80" textLength="12.28" lengthAdjust="spacingAndGlyphs" fill="#474747">75</text>
<text x="219.32" y="355.55" font-size="13.80" textLength="6.14" lengthAdjust="spacingAndGlyphs" fill="#474747">5</text>
<text x="297.05" y="355.55" font-size="13.80" textLength="12.28" lengthAdjust="spacingAndGlyphs" fill="#474747">10</text>
<text x="317.49" y="355.55" font-size="13.80" textLength="6.14" lengthAdjust="spacingAndGlyphs" fill="#474747">2</text>
<text x="391.88" y="355.55" font-size="13.80" textLength="6.14" lengthAdjust="spacingAndGlyphs" fill="#474747">3</text>
<text x="438.82" y="355.55" font-size="13.80" textLength="15.35" lengthAdjust="spacingAndGlyphs" fill="#474747">0.0</text>
<text x="501.96" y="355.55" font-size="13.80" textLength="15.35" lengthAdjust="spacingAndGlyphs" fill="#474747">0.1</text>
<text x="571.82" y="355.55" font-size="13.80" textLength="15.35" lengthAdjust="spacingAndGlyphs" fill="#474747">0.0</text>
<text x="628.96" y="355.55" font-size="13.80" textLength="15.35" lengthAdjust="spacingAndGlyphs" fill="#474747">0.1</text>
<text x="685.93" y="355.55" font-size="13.80" textLength="15.35" lengthAdjust="spacingAndGlyphs" fill="#474747">0.2</text>
<text x="728.86" y="355.55" font-size="13.80" textLength="21.49" lengthAdjust="spacingAndGlyphs" fill="#474747">0.02</text>
<text x="787.62" y="355.55" font-size="13.80" textLength="21.49" lengthAdjust="spacingAndGlyphs" fill="#474747">0.04</text>
<text x="40.68" y="216.45" font-size="13.80" textLength="12.28" lengthAdjust="spacingAndGlyphs" fill="#474747">50</text>
<text x="46.82" y="263.45" font-size="13.80" textLength="6.14" lengthAdjust="spacingAndGlyphs" fill="#474747">0</text>
<text x="40.68" y="310.45" font-size="13.80" textLength="12.28" lengthAdjust="spacingAndGlyphs" fill="#474747">50</text>
<text x="31.31" y="310.45" font-size="13.80" textLength="7.76" lengthAdjust="spacingAndGlyphs" fill="#474747">−</text>
<text transform="translate(11.60,0) rotate(-90)" x="-156.38" y="0" font-size="13.80" textLength="83.86" lengthAdjust="spacingAndGlyphs" fill="#474747">SSP % change</text>
<text transform="translate(26.80,0) rotate(-90)" x="-154.70" y="0" font-size="13.80" textLength="80.10" lengthAdjust="spacingAndGlyphs" fill="#474747">GAT to PEW</text>
<text transform="translate(11.60,0) rotate(-90)" x="-323.23" y="0" font-size="13.80" textLength="98.81" lengthAdjust="spacingAndGlyphs" fill="#474747">ECMP % change</text>
<text transform="translate(26.80,0) rotate(-90)" x="-314.90" y="0" font-size="13.80" textLength="80.00" lengthAdjust="spacingAndGlyphs" fill="#474747">GAT to PEW</text>
<text x="87.88" y="368.80" font-size="13.80" textLength="58.72" lengthAdjust="spacingAndGlyphs" fill="#474747">number of</text>
<text x="92.59" y="383.70" font-size="13.80" textLength="32.51" lengthAdjust="spacingAndGlyphs" fill="#474747">nodes</text>
<text x="131.11" y="383.70" font-size="13.80" textLength="9.82" lengthAdjust="spacingAndGlyphs" fill="#474747" font-style="italic">N</text>
<text x="221.40" y="368.70" font-size="13.80" textLength="49.61" lengthAdjust="spacingAndGlyphs" fill="#474747">diameter</text>
<text x="363.44" y="368.70" font-size="13.80" textLength="26.31" lengthAdjust="spacingAndGlyphs" fill="#474747">edge</text>
<text x="349.72" y="383.70" font-size="13.80" textLength="39.33" lengthAdjust="spacingAndGlyphs" fill="#474747">density</text>
<text x="399.3" y="378.2" font-size="9.6" font-style="italic" text-anchor="middle" fill="#474747">m</text>
<line x1="395.0" x2="404.6" y1="380.1" y2="380.1" stroke="#474747" stroke-width="0.6"/>
<text x="399.3" y="388.3" font-size="9.6" font-style="italic" text-anchor="middle" fill="#474747">N</text>
<text x="482.77" y="368.70" font-size="13.80" textLength="47.22" lengthAdjust="spacingAndGlyphs" fill="#474747">capacity</text>
<text x="483.80" y="383.70" font-size="13.80" textLength="46.36" lengthAdjust="spacingAndGlyphs" fill="#474747">variance</text>
<text x="618.61" y="368.70" font-size="13.80" textLength="36.97" lengthAdjust="spacingAndGlyphs" fill="#474747">degree</text>
<text x="613.80" y="383.70" font-size="13.80" textLength="46.36" lengthAdjust="spacingAndGlyphs" fill="#474747">variance</text>
<text x="704.70" y="368.70" font-size="13.80" textLength="124.71" lengthAdjust="spacingAndGlyphs" fill="#474747">weighted betweenness</text>
<text x="743.80" y="383.70" font-size="13.80" textLength="47.17" lengthAdjust="spacingAndGlyphs" fill="#474747">variance</text>
<text transform="translate(793.00,0) rotate(-90)" x="-90.96" y="0" font-size="12.40" textLength="22.46" lengthAdjust="spacingAndGlyphs" fill="#474747">GAT</text>
<text transform="translate(805.00,0) rotate(-90)" x="-90.50" y="0" font-size="12.40" textLength="27.21" lengthAdjust="spacingAndGlyphs" fill="#474747">better</text>
<text transform="translate(793.00,0) rotate(-90)" x="-175.26" y="0" font-size="12.40" textLength="25.07" lengthAdjust="spacingAndGlyphs" fill="#474747">PEW</text>
<text transform="translate(805.00,0) rotate(-90)" x="-174.90" y="0" font-size="12.40" textLength="27.71" lengthAdjust="spacingAndGlyphs" fill="#474747">better</text>
<text transform="translate(793.00,0) rotate(-90)" x="-251.36" y="0" font-size="12.40" textLength="22.46" lengthAdjust="spacingAndGlyphs" fill="#474747">GAT</text>
<text transform="translate(805.00,0) rotate(-90)" x="-250.90" y="0" font-size="12.40" textLength="27.21" lengthAdjust="spacingAndGlyphs" fill="#474747">better</text>
<text transform="translate(793.00,0) rotate(-90)" x="-335.66" y="0" font-size="12.40" textLength="25.07" lengthAdjust="spacingAndGlyphs" fill="#474747">PEW</text>
<text transform="translate(805.00,0) rotate(-90)" x="-335.30" y="0" font-size="12.40" textLength="27.71" lengthAdjust="spacingAndGlyphs" fill="#474747">better</text>
<rect x="102.4" y="3.6" width="626" height="53.8" rx="2.6" fill="#EAEAF2" fill-opacity="0.8" stroke="#CCCCCC" stroke-opacity="0.5" stroke-width="0.8"/>
<circle cx="118.90" cy="12.95" r="7.20" fill="#333333" stroke="#fff" stroke-width="0.60"/>
<text x="140.99" y="16.70" font-size="12.70" textLength="32.87" lengthAdjust="spacingAndGlyphs" fill="#474747">Aconet</text>
<polygon points="115.30,37.05 118.90,33.45 122.50,37.05 126.10,33.45 122.50,29.85 126.10,26.25 122.50,22.65 118.90,26.25 115.30,22.65 111.70,26.25 115.30,29.85 111.70,33.45" fill="#333333" stroke="#fff" stroke-width="0.60" stroke-linejoin="miter"/>
<text x="140.98" y="33.20" font-size="12.70" textLength="22.07" lengthAdjust="spacingAndGlyphs" fill="#474747">Agis</text>
<polygon points="113.81,41.71 113.81,51.89 123.99,51.89 123.99,41.71" fill="#333333" stroke="#fff" stroke-width="0.60" stroke-linejoin="miter"/>
<text x="140.98" y="49.70" font-size="12.70" textLength="27.90" lengthAdjust="spacingAndGlyphs" fill="#474747">Arnes</text>
<polygon points="208.70,20.15 213.50,20.15 213.50,15.35 218.30,15.35 218.30,10.55 213.50,10.55 213.50,5.75 208.70,5.75 208.70,10.55 203.90,10.55 203.90,15.35 208.70,15.35" fill="#333333" stroke="#fff" stroke-width="0.60" stroke-linejoin="miter"/>
<text x="232.92" y="16.70" font-size="12.70" textLength="32.05" lengthAdjust="spacingAndGlyphs" fill="#474747">Cernet</text>
<polygon points="211.10,22.65 203.90,29.85 211.10,37.05 218.30,29.85" fill="#333333" stroke="#fff" stroke-width="0.60" stroke-linejoin="miter"/>
<text x="232.94" y="33.20" font-size="12.70" textLength="65.80" lengthAdjust="spacingAndGlyphs" fill="#474747">Cesnet201006</text>
<polygon points="211.10,39.60 208.55,44.25 203.90,46.80 208.55,49.35 211.10,54.00 213.65,49.35 218.30,46.80 213.65,44.25" fill="#333333" stroke="#fff" stroke-width="0.60" stroke-linejoin="miter"/>
<text x="232.93" y="49.70" font-size="12.70" textLength="26.60" lengthAdjust="spacingAndGlyphs" fill="#474747">Grnet</text>
<polygon points="335.40,5.75 328.20,20.15 342.60,20.15" fill="#333333" stroke="#fff" stroke-width="0.60" stroke-linejoin="miter"/>
<text x="357.29" y="16.70" font-size="12.70" textLength="10.38" lengthAdjust="spacingAndGlyphs" fill="#474747">Iij</text>
<polygon points="330.31,24.76 331.80,29.85 330.31,34.94 335.40,33.45 340.49,34.94 339.00,29.85 340.49,24.76 335.40,26.25" fill="#333333" stroke="#fff" stroke-width="0.60" stroke-linejoin="miter"/>
<text x="357.28" y="33.20" font-size="12.70" textLength="45.72" lengthAdjust="spacingAndGlyphs" fill="#474747">Internode</text>
<polygon points="335.40,54.00 342.60,39.60 328.20,39.60" fill="#333333" stroke="#fff" stroke-width="0.60" stroke-linejoin="miter"/>
<text x="357.46" y="49.70" font-size="12.70" textLength="48.95" lengthAdjust="spacingAndGlyphs" fill="#474747">Janetlense</text>
<polygon points="439.70,6.71 440.18,11.15 436.10,12.95 440.18,14.75 439.70,19.19 443.30,16.55 446.90,19.19 446.42,14.75 450.50,12.95 446.42,11.15 446.90,6.71 443.30,9.35" fill="#333333" stroke="#fff" stroke-width="0.60" stroke-linejoin="miter"/>
<text x="466.25" y="16.70" font-size="12.70" textLength="28.54" lengthAdjust="spacingAndGlyphs" fill="#474747">Karen</text>
<polygon points="439.70,23.61 436.10,29.85 439.70,36.09 446.90,36.09 450.50,29.85 446.90,23.61" fill="#333333" stroke="#fff" stroke-width="0.60" stroke-linejoin="miter"/>
<text x="466.25" y="33.20" font-size="12.70" textLength="33.61" lengthAdjust="spacingAndGlyphs" fill="#474747">Marnet</text>
<polygon points="443.30,39.60 441.18,43.89 436.45,44.58 439.88,47.91 439.07,52.62 443.30,50.40 447.53,52.62 446.72,47.91 450.15,44.58 445.42,43.89" fill="#333333" stroke="#fff" stroke-width="0.60" stroke-linejoin="miter"/>
<text x="466.25" y="49.70" font-size="12.70" textLength="18.82" lengthAdjust="spacingAndGlyphs" fill="#474747">Niif</text>
<polygon points="537.10,5.75 530.25,10.73 532.87,18.77 541.33,18.77 543.95,10.73" fill="#333333" stroke="#fff" stroke-width="0.60" stroke-linejoin="miter"/>
<text x="559.15" y="16.70" font-size="12.70" textLength="46.81" lengthAdjust="spacingAndGlyphs" fill="#474747">PionierL3</text>
<polygon points="533.98,23.36 534.29,27.61 530.08,28.25 533.59,30.65 531.47,34.34 535.54,33.09 537.10,37.05 538.66,33.09 542.73,34.34 540.61,30.65 544.12,28.25 539.91,27.61 540.22,23.36 537.10,26.25" fill="#333333" stroke="#fff" stroke-width="0.60" stroke-linejoin="miter"/>
<text x="558.71" y="33.20" font-size="12.70" textLength="24.02" lengthAdjust="spacingAndGlyphs" fill="#474747">Sinet</text>
<polygon points="533.98,40.31 530.08,45.20 531.47,51.29 537.10,54.00 542.73,51.29 544.12,45.20 540.22,40.31" fill="#333333" stroke="#fff" stroke-width="0.60" stroke-linejoin="miter"/>
<text x="558.71" y="49.70" font-size="12.70" textLength="45.44" lengthAdjust="spacingAndGlyphs" fill="#474747">SwitchL3</text>
<polygon points="642.20,5.75 640.40,9.83 635.96,9.35 638.60,12.95 635.96,16.55 640.40,16.07 642.20,20.15 644.00,16.07 648.44,16.55 645.80,12.95 648.44,9.35 644.00,9.83" fill="#333333" stroke="#fff" stroke-width="0.60" stroke-linejoin="miter"/>
<text x="664.47" y="16.70" font-size="12.70" textLength="36.99" lengthAdjust="spacingAndGlyphs" fill="#474747">Ulaknet</text>
<polygon points="642.20,22.65 635.96,26.25 635.96,33.45 642.20,37.05 648.44,33.45 648.44,26.25" fill="#333333" stroke="#fff" stroke-width="0.60" stroke-linejoin="miter"/>
<text x="664.47" y="33.20" font-size="12.70" textLength="58.24" lengthAdjust="spacingAndGlyphs" fill="#474747">Uninett2011</text>
</svg></body></html>
